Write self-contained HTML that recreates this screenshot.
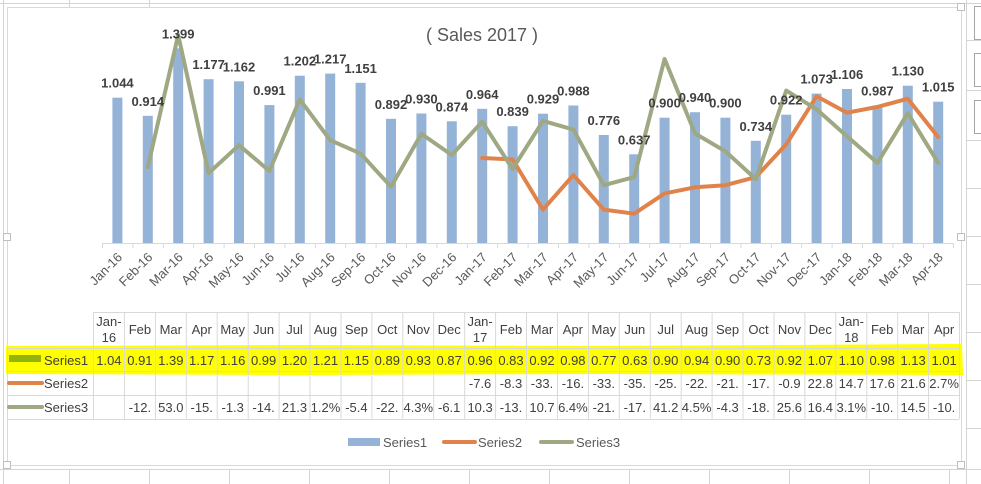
<!DOCTYPE html>
<html><head><meta charset="utf-8"><style>
html,body{margin:0;padding:0;background:#fff;}
svg{display:block;font-family:"Liberation Sans",sans-serif;}
</style></head><body>
<svg width="981" height="484" viewBox="0 0 981 484" xmlns="http://www.w3.org/2000/svg">
<g stroke="#d4d4d4" stroke-width="1">
<line x1="0" y1="3.5" x2="981" y2="3.5"/>
<line x1="0" y1="469.5" x2="981" y2="469.5"/>
<line x1="3.5" y1="0" x2="3.5" y2="484"/>
<line x1="69.5" y1="0" x2="69.5" y2="7"/><line x1="149.5" y1="0" x2="149.5" y2="7"/>
<line x1="69.5" y1="469" x2="69.5" y2="484"/><line x1="149.5" y1="469" x2="149.5" y2="484"/>
<line x1="229.5" y1="469" x2="229.5" y2="484"/><line x1="309.5" y1="469" x2="309.5" y2="484"/>
<line x1="389.5" y1="469" x2="389.5" y2="484"/><line x1="469.5" y1="469" x2="469.5" y2="484"/>
<line x1="549.5" y1="469" x2="549.5" y2="484"/><line x1="629.5" y1="469" x2="629.5" y2="484"/>
<line x1="709.5" y1="469" x2="709.5" y2="484"/><line x1="789.5" y1="469" x2="789.5" y2="484"/>
<line x1="869.5" y1="469" x2="869.5" y2="484"/><line x1="949.5" y1="469" x2="949.5" y2="484"/>
<line x1="966.5" y1="0" x2="966.5" y2="484"/>
<line x1="966" y1="40.5" x2="981" y2="40.5"/><line x1="966" y1="90.5" x2="981" y2="90.5"/>
<line x1="966" y1="140.5" x2="981" y2="140.5"/><line x1="966" y1="188.5" x2="981" y2="188.5"/>
<line x1="966" y1="236.5" x2="981" y2="236.5"/><line x1="966" y1="284.5" x2="981" y2="284.5"/>
<line x1="966" y1="332.5" x2="981" y2="332.5"/><line x1="966" y1="380.5" x2="981" y2="380.5"/>
<line x1="966" y1="428.5" x2="981" y2="428.5"/>
</g>
<g fill="none" stroke="#a6a6a6"><rect x="974.5" y="6.5" width="10" height="33"/><rect x="974.5" y="53.5" width="10" height="33"/><rect x="974.5" y="100.5" width="10" height="33"/></g>
<rect x="7.5" y="7.5" width="954" height="458" fill="#fff" stroke="#d9d9d9"/>
<g fill="#fff" stroke="#bfbfbf"><rect x="957.5" y="3.5" width="7" height="7"/><rect x="957.5" y="233.5" width="7" height="7"/><rect x="957.5" y="461.5" width="7" height="7"/><rect x="3.5" y="233.5" width="7" height="7"/><rect x="3.5" y="461.5" width="7" height="7"/></g>
<text x="482" y="41" text-anchor="middle" font-size="18" fill="#595959">( Sales 2017 )</text>
<g fill="#95b3d7">
<rect x="112.4" y="97.7" width="10" height="145.3"/>
<rect x="142.8" y="115.8" width="10" height="127.2"/>
<rect x="173.2" y="48.3" width="10" height="194.7"/>
<rect x="203.6" y="79.2" width="10" height="163.8"/>
<rect x="234.0" y="81.3" width="10" height="161.7"/>
<rect x="264.4" y="105.1" width="10" height="137.9"/>
<rect x="294.8" y="75.7" width="10" height="167.3"/>
<rect x="325.2" y="73.6" width="10" height="169.4"/>
<rect x="355.6" y="82.8" width="10" height="160.2"/>
<rect x="386.0" y="118.8" width="10" height="124.2"/>
<rect x="416.4" y="113.5" width="10" height="129.5"/>
<rect x="446.8" y="121.3" width="10" height="121.7"/>
<rect x="477.2" y="108.8" width="10" height="134.2"/>
<rect x="507.6" y="126.2" width="10" height="116.8"/>
<rect x="538.0" y="113.7" width="10" height="129.3"/>
<rect x="568.4" y="105.5" width="10" height="137.5"/>
<rect x="598.8" y="135.0" width="10" height="108.0"/>
<rect x="629.2" y="154.3" width="10" height="88.7"/>
<rect x="659.6" y="117.7" width="10" height="125.3"/>
<rect x="690.0" y="112.2" width="10" height="130.8"/>
<rect x="720.4" y="117.7" width="10" height="125.3"/>
<rect x="750.8" y="140.8" width="10" height="102.2"/>
<rect x="781.2" y="114.7" width="10" height="128.3"/>
<rect x="811.6" y="93.6" width="10" height="149.4"/>
<rect x="842.0" y="89.0" width="10" height="154.0"/>
<rect x="872.4" y="105.6" width="10" height="137.4"/>
<rect x="902.8" y="85.7" width="10" height="157.3"/>
<rect x="933.2" y="101.7" width="10" height="141.3"/>
</g>
<line x1="102" y1="243.5" x2="953" y2="243.5" stroke="#d9d9d9"/>
<g stroke="#d9d9d9">
<line x1="102.5" y1="243" x2="102.5" y2="248"/><line x1="132.9" y1="243" x2="132.9" y2="248"/><line x1="163.3" y1="243" x2="163.3" y2="248"/><line x1="193.7" y1="243" x2="193.7" y2="248"/><line x1="224.1" y1="243" x2="224.1" y2="248"/><line x1="254.5" y1="243" x2="254.5" y2="248"/><line x1="284.9" y1="243" x2="284.9" y2="248"/><line x1="315.3" y1="243" x2="315.3" y2="248"/><line x1="345.7" y1="243" x2="345.7" y2="248"/><line x1="376.1" y1="243" x2="376.1" y2="248"/><line x1="406.5" y1="243" x2="406.5" y2="248"/><line x1="436.9" y1="243" x2="436.9" y2="248"/><line x1="467.3" y1="243" x2="467.3" y2="248"/><line x1="497.7" y1="243" x2="497.7" y2="248"/><line x1="528.1" y1="243" x2="528.1" y2="248"/><line x1="558.5" y1="243" x2="558.5" y2="248"/><line x1="588.9" y1="243" x2="588.9" y2="248"/><line x1="619.3" y1="243" x2="619.3" y2="248"/><line x1="649.7" y1="243" x2="649.7" y2="248"/><line x1="680.1" y1="243" x2="680.1" y2="248"/><line x1="710.5" y1="243" x2="710.5" y2="248"/><line x1="740.9" y1="243" x2="740.9" y2="248"/><line x1="771.3" y1="243" x2="771.3" y2="248"/><line x1="801.7" y1="243" x2="801.7" y2="248"/><line x1="832.1" y1="243" x2="832.1" y2="248"/><line x1="862.5" y1="243" x2="862.5" y2="248"/><line x1="892.9" y1="243" x2="892.9" y2="248"/><line x1="923.3" y1="243" x2="923.3" y2="248"/><line x1="953.5" y1="243" x2="953.5" y2="248"/>
</g>
<polyline fill="none" stroke="#e0834a" stroke-width="4" stroke-linejoin="round" stroke-linecap="round" points="482.2,158.0 512.6,159.4 543.0,209.6 573.4,175.1 603.8,209.6 634.2,213.7 664.6,193.4 695.0,187.3 725.4,185.2 755.8,177.1 786.2,144.4 816.6,96.3 847.0,112.7 877.4,106.9 907.8,98.7 938.2,137.1"/>
<polyline fill="none" stroke="#9ea883" stroke-width="4" stroke-linejoin="round" stroke-linecap="round" points="147.8,167.0 178.2,35.0 208.6,173.1 239.0,145.2 269.4,171.0 299.8,99.4 330.2,140.2 360.6,153.6 391.0,186.7 421.4,133.9 451.8,155.0 482.2,121.7 512.6,169.0 543.0,120.9 573.4,129.6 603.8,185.2 634.2,177.1 664.6,59.0 695.0,133.5 725.4,151.3 755.8,179.1 786.2,90.6 816.6,109.3 847.0,136.3 877.4,162.9 907.8,113.2 938.2,162.9"/>
<g font-size="13" font-weight="bold" fill="#404040" text-anchor="middle">
<text x="117.4" y="87.7">1.044</text><text x="147.8" y="105.8">0.914</text><text x="178.2" y="38.3">1.399</text><text x="208.6" y="69.2">1.177</text><text x="239.0" y="71.3">1.162</text><text x="269.4" y="95.1">0.991</text><text x="299.8" y="65.7">1.202</text><text x="330.2" y="63.6">1.217</text><text x="360.6" y="72.8">1.151</text><text x="391.0" y="108.8">0.892</text><text x="421.4" y="103.5">0.930</text><text x="451.8" y="111.3">0.874</text><text x="482.2" y="98.8">0.964</text><text x="512.6" y="116.2">0.839</text><text x="543.0" y="103.7">0.929</text><text x="573.4" y="95.5">0.988</text><text x="603.8" y="125.0">0.776</text><text x="634.2" y="144.3">0.637</text><text x="664.6" y="107.7">0.900</text><text x="695.0" y="102.2">0.940</text><text x="725.4" y="107.7">0.900</text><text x="755.8" y="130.8">0.734</text><text x="786.2" y="104.7">0.922</text><text x="816.6" y="83.6">1.073</text><text x="847.0" y="79.0">1.106</text><text x="877.4" y="95.6">0.987</text><text x="907.8" y="75.7">1.130</text><text x="938.2" y="91.7">1.015</text>
</g>
<g font-size="13" fill="#595959" text-anchor="end">
<text transform="translate(123,258) rotate(-45)">Jan-16</text><text transform="translate(153.4,258) rotate(-45)">Feb-16</text><text transform="translate(183.8,258) rotate(-45)">Mar-16</text><text transform="translate(214.2,258) rotate(-45)">Apr-16</text><text transform="translate(244.6,258) rotate(-45)">May-16</text><text transform="translate(275,258) rotate(-45)">Jun-16</text><text transform="translate(305.4,258) rotate(-45)">Jul-16</text><text transform="translate(335.8,258) rotate(-45)">Aug-16</text><text transform="translate(366.2,258) rotate(-45)">Sep-16</text><text transform="translate(396.6,258) rotate(-45)">Oct-16</text><text transform="translate(427,258) rotate(-45)">Nov-16</text><text transform="translate(457.4,258) rotate(-45)">Dec-16</text><text transform="translate(487.8,258) rotate(-45)">Jan-17</text><text transform="translate(518.2,258) rotate(-45)">Feb-17</text><text transform="translate(548.6,258) rotate(-45)">Mar-17</text><text transform="translate(579,258) rotate(-45)">Apr-17</text><text transform="translate(609.4,258) rotate(-45)">May-17</text><text transform="translate(639.8,258) rotate(-45)">Jun-17</text><text transform="translate(670.2,258) rotate(-45)">Jul-17</text><text transform="translate(700.6,258) rotate(-45)">Aug-17</text><text transform="translate(731,258) rotate(-45)">Sep-17</text><text transform="translate(761.4,258) rotate(-45)">Oct-17</text><text transform="translate(791.8,258) rotate(-45)">Nov-17</text><text transform="translate(822.2,258) rotate(-45)">Dec-17</text><text transform="translate(852.6,258) rotate(-45)">Jan-18</text><text transform="translate(883,258) rotate(-45)">Feb-18</text><text transform="translate(913.4,258) rotate(-45)">Mar-18</text><text transform="translate(943.8,258) rotate(-45)">Apr-18</text>
</g>
<path d="M6,346 L300,345 L600,346 L962,344 L963,375 L600,374 L300,375 L6,374 Z" fill="#ffff00"/>
<g stroke="#d9d9d9" stroke-width="1">
<line x1="93" y1="312.5" x2="959" y2="312.5"/>
<line x1="7" y1="348.5" x2="959" y2="348.5"/>
<line x1="7" y1="371.5" x2="959" y2="371.5"/>
<line x1="7" y1="395.5" x2="959" y2="395.5"/>
<line x1="7" y1="419.5" x2="959" y2="419.5"/>
<line x1="7.5" y1="348" x2="7.5" y2="419"/>
<line x1="93.5" y1="312" x2="93.5" y2="419"/><line x1="124.4" y1="312" x2="124.4" y2="419"/><line x1="155.4" y1="312" x2="155.4" y2="419"/><line x1="186.3" y1="312" x2="186.3" y2="419"/><line x1="217.2" y1="312" x2="217.2" y2="419"/><line x1="248.2" y1="312" x2="248.2" y2="419"/><line x1="279.1" y1="312" x2="279.1" y2="419"/><line x1="310.0" y1="312" x2="310.0" y2="419"/><line x1="341.0" y1="312" x2="341.0" y2="419"/><line x1="371.9" y1="312" x2="371.9" y2="419"/><line x1="402.8" y1="312" x2="402.8" y2="419"/><line x1="433.7" y1="312" x2="433.7" y2="419"/><line x1="464.7" y1="312" x2="464.7" y2="419"/><line x1="495.6" y1="312" x2="495.6" y2="419"/><line x1="526.5" y1="312" x2="526.5" y2="419"/><line x1="557.5" y1="312" x2="557.5" y2="419"/><line x1="588.4" y1="312" x2="588.4" y2="419"/><line x1="619.3" y1="312" x2="619.3" y2="419"/><line x1="650.3" y1="312" x2="650.3" y2="419"/><line x1="681.2" y1="312" x2="681.2" y2="419"/><line x1="712.1" y1="312" x2="712.1" y2="419"/><line x1="743.0" y1="312" x2="743.0" y2="419"/><line x1="774.0" y1="312" x2="774.0" y2="419"/><line x1="804.9" y1="312" x2="804.9" y2="419"/><line x1="835.8" y1="312" x2="835.8" y2="419"/><line x1="866.8" y1="312" x2="866.8" y2="419"/><line x1="897.7" y1="312" x2="897.7" y2="419"/><line x1="928.6" y1="312" x2="928.6" y2="419"/><line x1="959.5" y1="312" x2="959.5" y2="419"/>
</g>
<rect x="9" y="355" width="32" height="7" fill="#93b20c"/>
<line x1="9" y1="383" x2="42" y2="383" stroke="#e0834a" stroke-width="4" stroke-linecap="round"/>
<line x1="9" y1="407" x2="42" y2="407" stroke="#9ea883" stroke-width="4" stroke-linecap="round"/>
<g font-size="13" fill="#404040">
<text x="44" y="365">Series1</text><text x="44" y="388">Series2</text><text x="44" y="412">Series3</text>
</g>
<g font-size="13" fill="#404040" text-anchor="middle">
<text x="108.9" y="326">Jan-</text><text x="108.9" y="342">16</text>
<text x="139.9" y="334">Feb</text><text x="170.8" y="334">Mar</text><text x="201.7" y="334">Apr</text><text x="232.7" y="334">May</text><text x="263.6" y="334">Jun</text><text x="294.5" y="334">Jul</text><text x="325.5" y="334">Aug</text><text x="356.4" y="334">Sep</text><text x="387.3" y="334">Oct</text><text x="418.3" y="334">Nov</text><text x="449.2" y="334">Dec</text>
<text x="480.1" y="326">Jan-</text><text x="480.1" y="342">17</text>
<text x="511.0" y="334">Feb</text><text x="542.0" y="334">Mar</text><text x="572.9" y="334">Apr</text><text x="603.8" y="334">May</text><text x="634.8" y="334">Jun</text><text x="665.7" y="334">Jul</text><text x="696.6" y="334">Aug</text><text x="727.6" y="334">Sep</text><text x="758.5" y="334">Oct</text><text x="789.4" y="334">Nov</text><text x="820.3" y="334">Dec</text>
<text x="851.3" y="326">Jan-</text><text x="851.3" y="342">18</text>
<text x="882.2" y="334">Feb</text><text x="913.1" y="334">Mar</text><text x="944.1" y="334">Apr</text>
</g>
<g font-size="13" fill="#404040" text-anchor="middle">
<text x="108.9" y="365">1.04</text><text x="139.9" y="365">0.91</text><text x="170.8" y="365">1.39</text><text x="201.7" y="365">1.17</text><text x="232.7" y="365">1.16</text><text x="263.6" y="365">0.99</text><text x="294.5" y="365">1.20</text><text x="325.5" y="365">1.21</text><text x="356.4" y="365">1.15</text><text x="387.3" y="365">0.89</text><text x="418.3" y="365">0.93</text><text x="449.2" y="365">0.87</text><text x="480.1" y="365">0.96</text><text x="511.0" y="365">0.83</text><text x="542.0" y="365">0.92</text><text x="572.9" y="365">0.98</text><text x="603.8" y="365">0.77</text><text x="634.8" y="365">0.63</text><text x="665.7" y="365">0.90</text><text x="696.6" y="365">0.94</text><text x="727.6" y="365">0.90</text><text x="758.5" y="365">0.73</text><text x="789.4" y="365">0.92</text><text x="820.3" y="365">1.07</text><text x="851.3" y="365">1.10</text><text x="882.2" y="365">0.98</text><text x="913.1" y="365">1.13</text><text x="944.1" y="365">1.01</text>
</g>
<g font-size="13" fill="#404040" text-anchor="middle">
<text x="480.1" y="388">-7.6</text><text x="511.0" y="388">-8.3</text><text x="542.0" y="388">-33.</text><text x="572.9" y="388">-16.</text><text x="603.8" y="388">-33.</text><text x="634.8" y="388">-35.</text><text x="665.7" y="388">-25.</text><text x="696.6" y="388">-22.</text><text x="727.6" y="388">-21.</text><text x="758.5" y="388">-17.</text><text x="789.4" y="388">-0.9</text><text x="820.3" y="388">22.8</text><text x="851.3" y="388">14.7</text><text x="882.2" y="388">17.6</text><text x="913.1" y="388">21.6</text><text x="944.1" y="388">2.7%</text>
</g>
<g font-size="13" fill="#404040" text-anchor="middle">
<text x="139.9" y="412">-12.</text><text x="170.8" y="412">53.0</text><text x="201.7" y="412">-15.</text><text x="232.7" y="412">-1.3</text><text x="263.6" y="412">-14.</text><text x="294.5" y="412">21.3</text><text x="325.5" y="412">1.2%</text><text x="356.4" y="412">-5.4</text><text x="387.3" y="412">-22.</text><text x="418.3" y="412">4.3%</text><text x="449.2" y="412">-6.1</text><text x="480.1" y="412">10.3</text><text x="511.0" y="412">-13.</text><text x="542.0" y="412">10.7</text><text x="572.9" y="412">6.4%</text><text x="603.8" y="412">-21.</text><text x="634.8" y="412">-17.</text><text x="665.7" y="412">41.2</text><text x="696.6" y="412">4.5%</text><text x="727.6" y="412">-4.3</text><text x="758.5" y="412">-18.</text><text x="789.4" y="412">25.6</text><text x="820.3" y="412">16.4</text><text x="851.3" y="412">3.1%</text><text x="882.2" y="412">-10.</text><text x="913.1" y="412">14.5</text><text x="944.1" y="412">-10.</text>
</g>
<rect x="348" y="438" width="32" height="8" fill="#95b3d7"/>
<line x1="444" y1="442" x2="475" y2="442" stroke="#e0834a" stroke-width="4" stroke-linecap="round"/>
<line x1="541" y1="442" x2="572" y2="442" stroke="#9ea883" stroke-width="4" stroke-linecap="round"/>
<g font-size="13" fill="#595959">
<text x="383" y="447">Series1</text><text x="478" y="447">Series2</text><text x="576" y="447">Series3</text>
</g>
</svg>
</body></html>
